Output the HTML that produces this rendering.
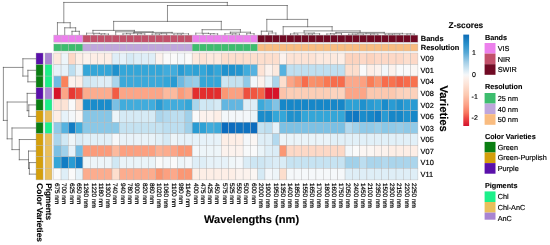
<!DOCTYPE html><html><head><meta charset="utf-8"><style>
html,body{margin:0;padding:0;background:#fff;width:550px;height:245px;overflow:hidden}
svg{display:block;font-family:"Liberation Sans",sans-serif;will-change:opacity;opacity:0.999}
text{fill:#000;text-rendering:geometricPrecision}
.t{opacity:0.999}
.b{font-weight:bold;stroke:#000;stroke-width:0.12px}
</style></head><body>
<svg width="550" height="245" viewBox="0 0 550 245">
<g stroke="#b4b4b4" stroke-width="0.4">
<rect x="53.8" y="53" width="7.28" height="11.54" fill="#fde9de"/>
<rect x="61.08" y="53" width="7.28" height="11.54" fill="#edf5f9"/>
<rect x="68.36" y="53" width="7.28" height="11.54" fill="#fdd8c6"/>
<rect x="75.65" y="53" width="7.28" height="11.54" fill="#fdeee6"/>
<rect x="82.93" y="53" width="7.28" height="11.54" fill="#fcf2ed"/>
<rect x="90.21" y="53" width="7.28" height="11.54" fill="#fdeee6"/>
<rect x="97.49" y="53" width="7.28" height="11.54" fill="#fdeee6"/>
<rect x="104.77" y="53" width="7.28" height="11.54" fill="#fdeee6"/>
<rect x="112.06" y="53" width="7.28" height="11.54" fill="#deeef7"/>
<rect x="119.34" y="53" width="7.28" height="11.54" fill="#e6f2f9"/>
<rect x="126.62" y="53" width="7.28" height="11.54" fill="#d5eaf5"/>
<rect x="133.9" y="53" width="7.28" height="11.54" fill="#deeef7"/>
<rect x="141.18" y="53" width="7.28" height="11.54" fill="#deeef7"/>
<rect x="148.47" y="53" width="7.28" height="11.54" fill="#deeef7"/>
<rect x="155.75" y="53" width="7.28" height="11.54" fill="#fcf2ed"/>
<rect x="163.03" y="53" width="7.28" height="11.54" fill="#fafafa"/>
<rect x="170.31" y="53" width="7.28" height="11.54" fill="#fafafa"/>
<rect x="177.59" y="53" width="7.28" height="11.54" fill="#f3f7fa"/>
<rect x="184.88" y="53" width="7.28" height="11.54" fill="#fafafa"/>
<rect x="192.16" y="53" width="7.28" height="11.54" fill="#fde9de"/>
<rect x="199.44" y="53" width="7.28" height="11.54" fill="#fde3d5"/>
<rect x="206.72" y="53" width="7.28" height="11.54" fill="#fde9de"/>
<rect x="214" y="53" width="7.28" height="11.54" fill="#fde9de"/>
<rect x="221.29" y="53" width="7.28" height="11.54" fill="#fddecd"/>
<rect x="228.57" y="53" width="7.28" height="11.54" fill="#fddecd"/>
<rect x="235.85" y="53" width="7.28" height="11.54" fill="#fddecd"/>
<rect x="243.13" y="53" width="7.28" height="11.54" fill="#fddecd"/>
<rect x="250.41" y="53" width="7.28" height="11.54" fill="#fddecd"/>
<rect x="257.7" y="53" width="7.28" height="11.54" fill="#fddecd"/>
<rect x="264.98" y="53" width="7.28" height="11.54" fill="#fddecd"/>
<rect x="272.26" y="53" width="7.28" height="11.54" fill="#fddecd"/>
<rect x="279.54" y="53" width="7.28" height="11.54" fill="#fcf2ed"/>
<rect x="286.82" y="53" width="7.28" height="11.54" fill="#fde3d5"/>
<rect x="294.11" y="53" width="7.28" height="11.54" fill="#fde3d5"/>
<rect x="301.39" y="53" width="7.28" height="11.54" fill="#fde3d5"/>
<rect x="308.67" y="53" width="7.28" height="11.54" fill="#fde3d5"/>
<rect x="315.95" y="53" width="7.28" height="11.54" fill="#fde9de"/>
<rect x="323.23" y="53" width="7.28" height="11.54" fill="#fde9de"/>
<rect x="330.52" y="53" width="7.28" height="11.54" fill="#fde9de"/>
<rect x="337.8" y="53" width="7.28" height="11.54" fill="#fdeee6"/>
<rect x="345.08" y="53" width="7.28" height="11.54" fill="#fcd3be"/>
<rect x="352.36" y="53" width="7.28" height="11.54" fill="#fcd3be"/>
<rect x="359.64" y="53" width="7.28" height="11.54" fill="#fdd8c6"/>
<rect x="366.93" y="53" width="7.28" height="11.54" fill="#fcd3be"/>
<rect x="374.21" y="53" width="7.28" height="11.54" fill="#fdd8c6"/>
<rect x="381.49" y="53" width="7.28" height="11.54" fill="#fdd8c6"/>
<rect x="388.77" y="53" width="7.28" height="11.54" fill="#fdd8c6"/>
<rect x="396.05" y="53" width="7.28" height="11.54" fill="#fdd8c6"/>
<rect x="403.34" y="53" width="7.28" height="11.54" fill="#fddecd"/>
<rect x="410.62" y="53" width="7.28" height="11.54" fill="#fdd8c6"/>
<rect x="53.8" y="64.54" width="7.28" height="11.54" fill="#e6f2f9"/>
<rect x="61.08" y="64.54" width="7.28" height="11.54" fill="#e6f2f9"/>
<rect x="68.36" y="64.54" width="7.28" height="11.54" fill="#bcdef0"/>
<rect x="75.65" y="64.54" width="7.28" height="11.54" fill="#e6f2f9"/>
<rect x="82.93" y="64.54" width="7.28" height="11.54" fill="#34a6d8"/>
<rect x="90.21" y="64.54" width="7.28" height="11.54" fill="#34a6d8"/>
<rect x="97.49" y="64.54" width="7.28" height="11.54" fill="#34a6d8"/>
<rect x="104.77" y="64.54" width="7.28" height="11.54" fill="#34a6d8"/>
<rect x="112.06" y="64.54" width="7.28" height="11.54" fill="#1f91cd"/>
<rect x="119.34" y="64.54" width="7.28" height="11.54" fill="#34a6d8"/>
<rect x="126.62" y="64.54" width="7.28" height="11.54" fill="#34a6d8"/>
<rect x="133.9" y="64.54" width="7.28" height="11.54" fill="#34a6d8"/>
<rect x="141.18" y="64.54" width="7.28" height="11.54" fill="#34a6d8"/>
<rect x="148.47" y="64.54" width="7.28" height="11.54" fill="#34a6d8"/>
<rect x="155.75" y="64.54" width="7.28" height="11.54" fill="#34a6d8"/>
<rect x="163.03" y="64.54" width="7.28" height="11.54" fill="#41acdc"/>
<rect x="170.31" y="64.54" width="7.28" height="11.54" fill="#41acdc"/>
<rect x="177.59" y="64.54" width="7.28" height="11.54" fill="#299bd3"/>
<rect x="184.88" y="64.54" width="7.28" height="11.54" fill="#34a6d8"/>
<rect x="192.16" y="64.54" width="7.28" height="11.54" fill="#2ea1d5"/>
<rect x="199.44" y="64.54" width="7.28" height="11.54" fill="#34a6d8"/>
<rect x="206.72" y="64.54" width="7.28" height="11.54" fill="#299bd3"/>
<rect x="214" y="64.54" width="7.28" height="11.54" fill="#34a6d8"/>
<rect x="221.29" y="64.54" width="7.28" height="11.54" fill="#1f91cd"/>
<rect x="228.57" y="64.54" width="7.28" height="11.54" fill="#1f91cd"/>
<rect x="235.85" y="64.54" width="7.28" height="11.54" fill="#2396d0"/>
<rect x="243.13" y="64.54" width="7.28" height="11.54" fill="#41acdc"/>
<rect x="250.41" y="64.54" width="7.28" height="11.54" fill="#55b2e0"/>
<rect x="257.7" y="64.54" width="7.28" height="11.54" fill="#fde3d5"/>
<rect x="264.98" y="64.54" width="7.28" height="11.54" fill="#fcf2ed"/>
<rect x="272.26" y="64.54" width="7.28" height="11.54" fill="#fde9de"/>
<rect x="279.54" y="64.54" width="7.28" height="11.54" fill="#55b2e0"/>
<rect x="286.82" y="64.54" width="7.28" height="11.54" fill="#bfdff0"/>
<rect x="294.11" y="64.54" width="7.28" height="11.54" fill="#bfdff0"/>
<rect x="301.39" y="64.54" width="7.28" height="11.54" fill="#bfdff0"/>
<rect x="308.67" y="64.54" width="7.28" height="11.54" fill="#bfdff0"/>
<rect x="315.95" y="64.54" width="7.28" height="11.54" fill="#bfdff0"/>
<rect x="323.23" y="64.54" width="7.28" height="11.54" fill="#bfdff0"/>
<rect x="330.52" y="64.54" width="7.28" height="11.54" fill="#bfdff0"/>
<rect x="337.8" y="64.54" width="7.28" height="11.54" fill="#bfdff0"/>
<rect x="345.08" y="64.54" width="7.28" height="11.54" fill="#fddecd"/>
<rect x="352.36" y="64.54" width="7.28" height="11.54" fill="#fddecd"/>
<rect x="359.64" y="64.54" width="7.28" height="11.54" fill="#fafafa"/>
<rect x="366.93" y="64.54" width="7.28" height="11.54" fill="#fdeee6"/>
<rect x="374.21" y="64.54" width="7.28" height="11.54" fill="#fcf2ed"/>
<rect x="381.49" y="64.54" width="7.28" height="11.54" fill="#f3f7fa"/>
<rect x="388.77" y="64.54" width="7.28" height="11.54" fill="#fcf2ed"/>
<rect x="396.05" y="64.54" width="7.28" height="11.54" fill="#fafafa"/>
<rect x="403.34" y="64.54" width="7.28" height="11.54" fill="#fafafa"/>
<rect x="410.62" y="64.54" width="7.28" height="11.54" fill="#fbf6f3"/>
<rect x="53.8" y="76.07" width="7.28" height="11.54" fill="#6ebae2"/>
<rect x="61.08" y="76.07" width="7.28" height="11.54" fill="#fa825b"/>
<rect x="68.36" y="76.07" width="7.28" height="11.54" fill="#fcf2ed"/>
<rect x="75.65" y="76.07" width="7.28" height="11.54" fill="#fdeee6"/>
<rect x="82.93" y="76.07" width="7.28" height="11.54" fill="#cde6f3"/>
<rect x="90.21" y="76.07" width="7.28" height="11.54" fill="#d5eaf5"/>
<rect x="97.49" y="76.07" width="7.28" height="11.54" fill="#deeef7"/>
<rect x="104.77" y="76.07" width="7.28" height="11.54" fill="#deeef7"/>
<rect x="112.06" y="76.07" width="7.28" height="11.54" fill="#aad5ec"/>
<rect x="119.34" y="76.07" width="7.28" height="11.54" fill="#3ba9da"/>
<rect x="126.62" y="76.07" width="7.28" height="11.54" fill="#3ba9da"/>
<rect x="133.9" y="76.07" width="7.28" height="11.54" fill="#3ba9da"/>
<rect x="141.18" y="76.07" width="7.28" height="11.54" fill="#3ba9da"/>
<rect x="148.47" y="76.07" width="7.28" height="11.54" fill="#3ba9da"/>
<rect x="155.75" y="76.07" width="7.28" height="11.54" fill="#3ba9da"/>
<rect x="163.03" y="76.07" width="7.28" height="11.54" fill="#34a6d8"/>
<rect x="170.31" y="76.07" width="7.28" height="11.54" fill="#299bd3"/>
<rect x="177.59" y="76.07" width="7.28" height="11.54" fill="#6ebae2"/>
<rect x="184.88" y="76.07" width="7.28" height="11.54" fill="#90cae8"/>
<rect x="192.16" y="76.07" width="7.28" height="11.54" fill="#98cee9"/>
<rect x="199.44" y="76.07" width="7.28" height="11.54" fill="#34a6d8"/>
<rect x="206.72" y="76.07" width="7.28" height="11.54" fill="#34a6d8"/>
<rect x="214" y="76.07" width="7.28" height="11.54" fill="#34a6d8"/>
<rect x="221.29" y="76.07" width="7.28" height="11.54" fill="#cde6f3"/>
<rect x="228.57" y="76.07" width="7.28" height="11.54" fill="#c4e2f1"/>
<rect x="235.85" y="76.07" width="7.28" height="11.54" fill="#c4e2f1"/>
<rect x="243.13" y="76.07" width="7.28" height="11.54" fill="#90cae8"/>
<rect x="250.41" y="76.07" width="7.28" height="11.54" fill="#f3f7fa"/>
<rect x="257.7" y="76.07" width="7.28" height="11.54" fill="#fcf2ed"/>
<rect x="264.98" y="76.07" width="7.28" height="11.54" fill="#eaf4f9"/>
<rect x="272.26" y="76.07" width="7.28" height="11.54" fill="#aad5ec"/>
<rect x="279.54" y="76.07" width="7.28" height="11.54" fill="#fddecd"/>
<rect x="286.82" y="76.07" width="7.28" height="11.54" fill="#fca587"/>
<rect x="294.11" y="76.07" width="7.28" height="11.54" fill="#fa946f"/>
<rect x="301.39" y="76.07" width="7.28" height="11.54" fill="#f76c4c"/>
<rect x="308.67" y="76.07" width="7.28" height="11.54" fill="#fa906a"/>
<rect x="315.95" y="76.07" width="7.28" height="11.54" fill="#fa8c64"/>
<rect x="323.23" y="76.07" width="7.28" height="11.54" fill="#f97852"/>
<rect x="330.52" y="76.07" width="7.28" height="11.54" fill="#f76c4c"/>
<rect x="337.8" y="76.07" width="7.28" height="11.54" fill="#f76c4c"/>
<rect x="345.08" y="76.07" width="7.28" height="11.54" fill="#fca88a"/>
<rect x="352.36" y="76.07" width="7.28" height="11.54" fill="#fca88a"/>
<rect x="359.64" y="76.07" width="7.28" height="11.54" fill="#fca080"/>
<rect x="366.93" y="76.07" width="7.28" height="11.54" fill="#f97d56"/>
<rect x="374.21" y="76.07" width="7.28" height="11.54" fill="#fa946f"/>
<rect x="381.49" y="76.07" width="7.28" height="11.54" fill="#f76c4c"/>
<rect x="388.77" y="76.07" width="7.28" height="11.54" fill="#f8724f"/>
<rect x="396.05" y="76.07" width="7.28" height="11.54" fill="#f46448"/>
<rect x="403.34" y="76.07" width="7.28" height="11.54" fill="#f76c4c"/>
<rect x="410.62" y="76.07" width="7.28" height="11.54" fill="#f8724f"/>
<rect x="53.8" y="87.61" width="7.28" height="11.54" fill="#d7142a"/>
<rect x="61.08" y="87.61" width="7.28" height="11.54" fill="#fca587"/>
<rect x="68.36" y="87.61" width="7.28" height="11.54" fill="#e73933"/>
<rect x="75.65" y="87.61" width="7.28" height="11.54" fill="#ee503e"/>
<rect x="82.93" y="87.61" width="7.28" height="11.54" fill="#fcac8e"/>
<rect x="90.21" y="87.61" width="7.28" height="11.54" fill="#fcac8e"/>
<rect x="97.49" y="87.61" width="7.28" height="11.54" fill="#fcac8e"/>
<rect x="104.77" y="87.61" width="7.28" height="11.54" fill="#fcac8e"/>
<rect x="112.06" y="87.61" width="7.28" height="11.54" fill="#f25c44"/>
<rect x="119.34" y="87.61" width="7.28" height="11.54" fill="#fca587"/>
<rect x="126.62" y="87.61" width="7.28" height="11.54" fill="#fca587"/>
<rect x="133.9" y="87.61" width="7.28" height="11.54" fill="#fca587"/>
<rect x="141.18" y="87.61" width="7.28" height="11.54" fill="#fca587"/>
<rect x="148.47" y="87.61" width="7.28" height="11.54" fill="#fca587"/>
<rect x="155.75" y="87.61" width="7.28" height="11.54" fill="#fca587"/>
<rect x="163.03" y="87.61" width="7.28" height="11.54" fill="#fcba9e"/>
<rect x="170.31" y="87.61" width="7.28" height="11.54" fill="#fcba9e"/>
<rect x="177.59" y="87.61" width="7.28" height="11.54" fill="#fb9b7a"/>
<rect x="184.88" y="87.61" width="7.28" height="11.54" fill="#fca88a"/>
<rect x="192.16" y="87.61" width="7.28" height="11.54" fill="#e32d2d"/>
<rect x="199.44" y="87.61" width="7.28" height="11.54" fill="#e32d2d"/>
<rect x="206.72" y="87.61" width="7.28" height="11.54" fill="#e32d2d"/>
<rect x="214" y="87.61" width="7.28" height="11.54" fill="#e32d2d"/>
<rect x="221.29" y="87.61" width="7.28" height="11.54" fill="#fb9774"/>
<rect x="228.57" y="87.61" width="7.28" height="11.54" fill="#fca080"/>
<rect x="235.85" y="87.61" width="7.28" height="11.54" fill="#fca080"/>
<rect x="243.13" y="87.61" width="7.28" height="11.54" fill="#ee503e"/>
<rect x="250.41" y="87.61" width="7.28" height="11.54" fill="#f05641"/>
<rect x="257.7" y="87.61" width="7.28" height="11.54" fill="#f46448"/>
<rect x="264.98" y="87.61" width="7.28" height="11.54" fill="#d7142a"/>
<rect x="272.26" y="87.61" width="7.28" height="11.54" fill="#d7142a"/>
<rect x="279.54" y="87.61" width="7.28" height="11.54" fill="#fcc3aa"/>
<rect x="286.82" y="87.61" width="7.28" height="11.54" fill="#fcceb6"/>
<rect x="294.11" y="87.61" width="7.28" height="11.54" fill="#fcceb6"/>
<rect x="301.39" y="87.61" width="7.28" height="11.54" fill="#fcceb6"/>
<rect x="308.67" y="87.61" width="7.28" height="11.54" fill="#fcceb6"/>
<rect x="315.95" y="87.61" width="7.28" height="11.54" fill="#fcceb6"/>
<rect x="323.23" y="87.61" width="7.28" height="11.54" fill="#fcceb6"/>
<rect x="330.52" y="87.61" width="7.28" height="11.54" fill="#fcd3be"/>
<rect x="337.8" y="87.61" width="7.28" height="11.54" fill="#fcd3be"/>
<rect x="345.08" y="87.61" width="7.28" height="11.54" fill="#fca587"/>
<rect x="352.36" y="87.61" width="7.28" height="11.54" fill="#fca587"/>
<rect x="359.64" y="87.61" width="7.28" height="11.54" fill="#fca587"/>
<rect x="366.93" y="87.61" width="7.28" height="11.54" fill="#fcc8af"/>
<rect x="374.21" y="87.61" width="7.28" height="11.54" fill="#fcc8af"/>
<rect x="381.49" y="87.61" width="7.28" height="11.54" fill="#fcc8af"/>
<rect x="388.77" y="87.61" width="7.28" height="11.54" fill="#fcc8af"/>
<rect x="396.05" y="87.61" width="7.28" height="11.54" fill="#fcd1bb"/>
<rect x="403.34" y="87.61" width="7.28" height="11.54" fill="#fcd3be"/>
<rect x="410.62" y="87.61" width="7.28" height="11.54" fill="#fcd1bb"/>
<rect x="53.8" y="99.14" width="7.28" height="11.54" fill="#fde3d5"/>
<rect x="61.08" y="99.14" width="7.28" height="11.54" fill="#fde3d5"/>
<rect x="68.36" y="99.14" width="7.28" height="11.54" fill="#fafafa"/>
<rect x="75.65" y="99.14" width="7.28" height="11.54" fill="#fddecd"/>
<rect x="82.93" y="99.14" width="7.28" height="11.54" fill="#1a8ccb"/>
<rect x="90.21" y="99.14" width="7.28" height="11.54" fill="#1a8ccb"/>
<rect x="97.49" y="99.14" width="7.28" height="11.54" fill="#1a8ccb"/>
<rect x="104.77" y="99.14" width="7.28" height="11.54" fill="#1a8ccb"/>
<rect x="112.06" y="99.14" width="7.28" height="11.54" fill="#7ac0e4"/>
<rect x="119.34" y="99.14" width="7.28" height="11.54" fill="#41acdc"/>
<rect x="126.62" y="99.14" width="7.28" height="11.54" fill="#41acdc"/>
<rect x="133.9" y="99.14" width="7.28" height="11.54" fill="#41acdc"/>
<rect x="141.18" y="99.14" width="7.28" height="11.54" fill="#41acdc"/>
<rect x="148.47" y="99.14" width="7.28" height="11.54" fill="#41acdc"/>
<rect x="155.75" y="99.14" width="7.28" height="11.54" fill="#299bd3"/>
<rect x="163.03" y="99.14" width="7.28" height="11.54" fill="#41acdc"/>
<rect x="170.31" y="99.14" width="7.28" height="11.54" fill="#41acdc"/>
<rect x="177.59" y="99.14" width="7.28" height="11.54" fill="#41acdc"/>
<rect x="184.88" y="99.14" width="7.28" height="11.54" fill="#34a6d8"/>
<rect x="192.16" y="99.14" width="7.28" height="11.54" fill="#aad5ec"/>
<rect x="199.44" y="99.14" width="7.28" height="11.54" fill="#d0e8f4"/>
<rect x="206.72" y="99.14" width="7.28" height="11.54" fill="#cde6f3"/>
<rect x="214" y="99.14" width="7.28" height="11.54" fill="#d5eaf5"/>
<rect x="221.29" y="99.14" width="7.28" height="11.54" fill="#62b6e1"/>
<rect x="228.57" y="99.14" width="7.28" height="11.54" fill="#62b6e1"/>
<rect x="235.85" y="99.14" width="7.28" height="11.54" fill="#62b6e1"/>
<rect x="243.13" y="99.14" width="7.28" height="11.54" fill="#deeef7"/>
<rect x="250.41" y="99.14" width="7.28" height="11.54" fill="#deeef7"/>
<rect x="257.7" y="99.14" width="7.28" height="11.54" fill="#3ba9da"/>
<rect x="264.98" y="99.14" width="7.28" height="11.54" fill="#55b2e0"/>
<rect x="272.26" y="99.14" width="7.28" height="11.54" fill="#81c3e5"/>
<rect x="279.54" y="99.14" width="7.28" height="11.54" fill="#1687c8"/>
<rect x="286.82" y="99.14" width="7.28" height="11.54" fill="#1687c8"/>
<rect x="294.11" y="99.14" width="7.28" height="11.54" fill="#1687c8"/>
<rect x="301.39" y="99.14" width="7.28" height="11.54" fill="#1687c8"/>
<rect x="308.67" y="99.14" width="7.28" height="11.54" fill="#1687c8"/>
<rect x="315.95" y="99.14" width="7.28" height="11.54" fill="#1687c8"/>
<rect x="323.23" y="99.14" width="7.28" height="11.54" fill="#1687c8"/>
<rect x="330.52" y="99.14" width="7.28" height="11.54" fill="#1687c8"/>
<rect x="337.8" y="99.14" width="7.28" height="11.54" fill="#1687c8"/>
<rect x="345.08" y="99.14" width="7.28" height="11.54" fill="#2ea1d5"/>
<rect x="352.36" y="99.14" width="7.28" height="11.54" fill="#2ea1d5"/>
<rect x="359.64" y="99.14" width="7.28" height="11.54" fill="#1f91cd"/>
<rect x="366.93" y="99.14" width="7.28" height="11.54" fill="#299bd3"/>
<rect x="374.21" y="99.14" width="7.28" height="11.54" fill="#2ea1d5"/>
<rect x="381.49" y="99.14" width="7.28" height="11.54" fill="#1a8ccb"/>
<rect x="388.77" y="99.14" width="7.28" height="11.54" fill="#299bd3"/>
<rect x="396.05" y="99.14" width="7.28" height="11.54" fill="#1f91cd"/>
<rect x="403.34" y="99.14" width="7.28" height="11.54" fill="#299bd3"/>
<rect x="410.62" y="99.14" width="7.28" height="11.54" fill="#299bd3"/>
<rect x="53.8" y="110.68" width="7.28" height="11.54" fill="#fdeee6"/>
<rect x="61.08" y="110.68" width="7.28" height="11.54" fill="#e6f2f9"/>
<rect x="68.36" y="110.68" width="7.28" height="11.54" fill="#f3f7fa"/>
<rect x="75.65" y="110.68" width="7.28" height="11.54" fill="#fbf6f3"/>
<rect x="82.93" y="110.68" width="7.28" height="11.54" fill="#87c6e6"/>
<rect x="90.21" y="110.68" width="7.28" height="11.54" fill="#87c6e6"/>
<rect x="97.49" y="110.68" width="7.28" height="11.54" fill="#87c6e6"/>
<rect x="104.77" y="110.68" width="7.28" height="11.54" fill="#87c6e6"/>
<rect x="112.06" y="110.68" width="7.28" height="11.54" fill="#edf5f9"/>
<rect x="119.34" y="110.68" width="7.28" height="11.54" fill="#d5eaf5"/>
<rect x="126.62" y="110.68" width="7.28" height="11.54" fill="#d5eaf5"/>
<rect x="133.9" y="110.68" width="7.28" height="11.54" fill="#d5eaf5"/>
<rect x="141.18" y="110.68" width="7.28" height="11.54" fill="#d5eaf5"/>
<rect x="148.47" y="110.68" width="7.28" height="11.54" fill="#d5eaf5"/>
<rect x="155.75" y="110.68" width="7.28" height="11.54" fill="#aad5ec"/>
<rect x="163.03" y="110.68" width="7.28" height="11.54" fill="#b3d9ee"/>
<rect x="170.31" y="110.68" width="7.28" height="11.54" fill="#bcdef0"/>
<rect x="177.59" y="110.68" width="7.28" height="11.54" fill="#bcdef0"/>
<rect x="184.88" y="110.68" width="7.28" height="11.54" fill="#a1d1ea"/>
<rect x="192.16" y="110.68" width="7.28" height="11.54" fill="#fafafa"/>
<rect x="199.44" y="110.68" width="7.28" height="11.54" fill="#fcf2ed"/>
<rect x="206.72" y="110.68" width="7.28" height="11.54" fill="#fcf2ed"/>
<rect x="214" y="110.68" width="7.28" height="11.54" fill="#fdeee6"/>
<rect x="221.29" y="110.68" width="7.28" height="11.54" fill="#f3f7fa"/>
<rect x="228.57" y="110.68" width="7.28" height="11.54" fill="#f3f7fa"/>
<rect x="235.85" y="110.68" width="7.28" height="11.54" fill="#f3f7fa"/>
<rect x="243.13" y="110.68" width="7.28" height="11.54" fill="#f3f7fa"/>
<rect x="250.41" y="110.68" width="7.28" height="11.54" fill="#edf5f9"/>
<rect x="257.7" y="110.68" width="7.28" height="11.54" fill="#1a8ccb"/>
<rect x="264.98" y="110.68" width="7.28" height="11.54" fill="#1a8ccb"/>
<rect x="272.26" y="110.68" width="7.28" height="11.54" fill="#34a6d8"/>
<rect x="279.54" y="110.68" width="7.28" height="11.54" fill="#34a6d8"/>
<rect x="286.82" y="110.68" width="7.28" height="11.54" fill="#1f91cd"/>
<rect x="294.11" y="110.68" width="7.28" height="11.54" fill="#1f91cd"/>
<rect x="301.39" y="110.68" width="7.28" height="11.54" fill="#34a6d8"/>
<rect x="308.67" y="110.68" width="7.28" height="11.54" fill="#34a6d8"/>
<rect x="315.95" y="110.68" width="7.28" height="11.54" fill="#34a6d8"/>
<rect x="323.23" y="110.68" width="7.28" height="11.54" fill="#34a6d8"/>
<rect x="330.52" y="110.68" width="7.28" height="11.54" fill="#34a6d8"/>
<rect x="337.8" y="110.68" width="7.28" height="11.54" fill="#34a6d8"/>
<rect x="345.08" y="110.68" width="7.28" height="11.54" fill="#127dc4"/>
<rect x="352.36" y="110.68" width="7.28" height="11.54" fill="#1077c2"/>
<rect x="359.64" y="110.68" width="7.28" height="11.54" fill="#1a8ccb"/>
<rect x="366.93" y="110.68" width="7.28" height="11.54" fill="#1687c8"/>
<rect x="374.21" y="110.68" width="7.28" height="11.54" fill="#127dc4"/>
<rect x="381.49" y="110.68" width="7.28" height="11.54" fill="#299bd3"/>
<rect x="388.77" y="110.68" width="7.28" height="11.54" fill="#1687c8"/>
<rect x="396.05" y="110.68" width="7.28" height="11.54" fill="#1687c8"/>
<rect x="403.34" y="110.68" width="7.28" height="11.54" fill="#1f91cd"/>
<rect x="410.62" y="110.68" width="7.28" height="11.54" fill="#1687c8"/>
<rect x="53.8" y="122.22" width="7.28" height="11.54" fill="#90cae8"/>
<rect x="61.08" y="122.22" width="7.28" height="11.54" fill="#55b2e0"/>
<rect x="68.36" y="122.22" width="7.28" height="11.54" fill="#127dc4"/>
<rect x="75.65" y="122.22" width="7.28" height="11.54" fill="#41acdc"/>
<rect x="82.93" y="122.22" width="7.28" height="11.54" fill="#8ac8e7"/>
<rect x="90.21" y="122.22" width="7.28" height="11.54" fill="#8ac8e7"/>
<rect x="97.49" y="122.22" width="7.28" height="11.54" fill="#8ac8e7"/>
<rect x="104.77" y="122.22" width="7.28" height="11.54" fill="#8ac8e7"/>
<rect x="112.06" y="122.22" width="7.28" height="11.54" fill="#8ac8e7"/>
<rect x="119.34" y="122.22" width="7.28" height="11.54" fill="#c4e2f1"/>
<rect x="126.62" y="122.22" width="7.28" height="11.54" fill="#c4e2f1"/>
<rect x="133.9" y="122.22" width="7.28" height="11.54" fill="#c4e2f1"/>
<rect x="141.18" y="122.22" width="7.28" height="11.54" fill="#c4e2f1"/>
<rect x="148.47" y="122.22" width="7.28" height="11.54" fill="#c4e2f1"/>
<rect x="155.75" y="122.22" width="7.28" height="11.54" fill="#c4e2f1"/>
<rect x="163.03" y="122.22" width="7.28" height="11.54" fill="#bcdef0"/>
<rect x="170.31" y="122.22" width="7.28" height="11.54" fill="#bcdef0"/>
<rect x="177.59" y="122.22" width="7.28" height="11.54" fill="#bcdef0"/>
<rect x="184.88" y="122.22" width="7.28" height="11.54" fill="#a1d1ea"/>
<rect x="192.16" y="122.22" width="7.28" height="11.54" fill="#299bd3"/>
<rect x="199.44" y="122.22" width="7.28" height="11.54" fill="#2ea1d5"/>
<rect x="206.72" y="122.22" width="7.28" height="11.54" fill="#41acdc"/>
<rect x="214" y="122.22" width="7.28" height="11.54" fill="#3ba9da"/>
<rect x="221.29" y="122.22" width="7.28" height="11.54" fill="#0c6cbe"/>
<rect x="228.57" y="122.22" width="7.28" height="11.54" fill="#0c6cbe"/>
<rect x="235.85" y="122.22" width="7.28" height="11.54" fill="#0e72c0"/>
<rect x="243.13" y="122.22" width="7.28" height="11.54" fill="#0e72c0"/>
<rect x="250.41" y="122.22" width="7.28" height="11.54" fill="#0c6cbe"/>
<rect x="257.7" y="122.22" width="7.28" height="11.54" fill="#c4e2f1"/>
<rect x="264.98" y="122.22" width="7.28" height="11.54" fill="#bcdef0"/>
<rect x="272.26" y="122.22" width="7.28" height="11.54" fill="#e6f2f9"/>
<rect x="279.54" y="122.22" width="7.28" height="11.54" fill="#7dc1e4"/>
<rect x="286.82" y="122.22" width="7.28" height="11.54" fill="#7dc1e4"/>
<rect x="294.11" y="122.22" width="7.28" height="11.54" fill="#7dc1e4"/>
<rect x="301.39" y="122.22" width="7.28" height="11.54" fill="#7dc1e4"/>
<rect x="308.67" y="122.22" width="7.28" height="11.54" fill="#7dc1e4"/>
<rect x="315.95" y="122.22" width="7.28" height="11.54" fill="#7dc1e4"/>
<rect x="323.23" y="122.22" width="7.28" height="11.54" fill="#7dc1e4"/>
<rect x="330.52" y="122.22" width="7.28" height="11.54" fill="#7ac0e4"/>
<rect x="337.8" y="122.22" width="7.28" height="11.54" fill="#7ac0e4"/>
<rect x="345.08" y="122.22" width="7.28" height="11.54" fill="#b3d9ee"/>
<rect x="352.36" y="122.22" width="7.28" height="11.54" fill="#a1d1ea"/>
<rect x="359.64" y="122.22" width="7.28" height="11.54" fill="#90cae8"/>
<rect x="366.93" y="122.22" width="7.28" height="11.54" fill="#90cae8"/>
<rect x="374.21" y="122.22" width="7.28" height="11.54" fill="#98cee9"/>
<rect x="381.49" y="122.22" width="7.28" height="11.54" fill="#8ac8e7"/>
<rect x="388.77" y="122.22" width="7.28" height="11.54" fill="#90cae8"/>
<rect x="396.05" y="122.22" width="7.28" height="11.54" fill="#95cce8"/>
<rect x="403.34" y="122.22" width="7.28" height="11.54" fill="#8ec9e7"/>
<rect x="410.62" y="122.22" width="7.28" height="11.54" fill="#90cae8"/>
<rect x="53.8" y="133.75" width="7.28" height="11.54" fill="#aad5ec"/>
<rect x="61.08" y="133.75" width="7.28" height="11.54" fill="#d0e8f4"/>
<rect x="68.36" y="133.75" width="7.28" height="11.54" fill="#eff6f9"/>
<rect x="75.65" y="133.75" width="7.28" height="11.54" fill="#daecf6"/>
<rect x="82.93" y="133.75" width="7.28" height="11.54" fill="#e1f0f8"/>
<rect x="90.21" y="133.75" width="7.28" height="11.54" fill="#e1f0f8"/>
<rect x="97.49" y="133.75" width="7.28" height="11.54" fill="#e1f0f8"/>
<rect x="104.77" y="133.75" width="7.28" height="11.54" fill="#e1f0f8"/>
<rect x="112.06" y="133.75" width="7.28" height="11.54" fill="#f6f8fa"/>
<rect x="119.34" y="133.75" width="7.28" height="11.54" fill="#e9f3f9"/>
<rect x="126.62" y="133.75" width="7.28" height="11.54" fill="#e9f3f9"/>
<rect x="133.9" y="133.75" width="7.28" height="11.54" fill="#e9f3f9"/>
<rect x="141.18" y="133.75" width="7.28" height="11.54" fill="#e9f3f9"/>
<rect x="148.47" y="133.75" width="7.28" height="11.54" fill="#e9f3f9"/>
<rect x="155.75" y="133.75" width="7.28" height="11.54" fill="#e1f0f8"/>
<rect x="163.03" y="133.75" width="7.28" height="11.54" fill="#d5eaf5"/>
<rect x="170.31" y="133.75" width="7.28" height="11.54" fill="#edf5f9"/>
<rect x="177.59" y="133.75" width="7.28" height="11.54" fill="#e6f2f9"/>
<rect x="184.88" y="133.75" width="7.28" height="11.54" fill="#e6f2f9"/>
<rect x="192.16" y="133.75" width="7.28" height="11.54" fill="#e6f2f9"/>
<rect x="199.44" y="133.75" width="7.28" height="11.54" fill="#e6f2f9"/>
<rect x="206.72" y="133.75" width="7.28" height="11.54" fill="#e6f2f9"/>
<rect x="214" y="133.75" width="7.28" height="11.54" fill="#e6f2f9"/>
<rect x="221.29" y="133.75" width="7.28" height="11.54" fill="#fdeee6"/>
<rect x="228.57" y="133.75" width="7.28" height="11.54" fill="#fdeee6"/>
<rect x="235.85" y="133.75" width="7.28" height="11.54" fill="#fdeee6"/>
<rect x="243.13" y="133.75" width="7.28" height="11.54" fill="#f3f7fa"/>
<rect x="250.41" y="133.75" width="7.28" height="11.54" fill="#fbf6f3"/>
<rect x="257.7" y="133.75" width="7.28" height="11.54" fill="#deeef7"/>
<rect x="264.98" y="133.75" width="7.28" height="11.54" fill="#deeef7"/>
<rect x="272.26" y="133.75" width="7.28" height="11.54" fill="#b3d9ee"/>
<rect x="279.54" y="133.75" width="7.28" height="11.54" fill="#edf5f9"/>
<rect x="286.82" y="133.75" width="7.28" height="11.54" fill="#eaf4f9"/>
<rect x="294.11" y="133.75" width="7.28" height="11.54" fill="#eaf4f9"/>
<rect x="301.39" y="133.75" width="7.28" height="11.54" fill="#eaf4f9"/>
<rect x="308.67" y="133.75" width="7.28" height="11.54" fill="#eaf4f9"/>
<rect x="315.95" y="133.75" width="7.28" height="11.54" fill="#eaf4f9"/>
<rect x="323.23" y="133.75" width="7.28" height="11.54" fill="#eaf4f9"/>
<rect x="330.52" y="133.75" width="7.28" height="11.54" fill="#e1f0f8"/>
<rect x="337.8" y="133.75" width="7.28" height="11.54" fill="#e1f0f8"/>
<rect x="345.08" y="133.75" width="7.28" height="11.54" fill="#e1f0f8"/>
<rect x="352.36" y="133.75" width="7.28" height="11.54" fill="#e1f0f8"/>
<rect x="359.64" y="133.75" width="7.28" height="11.54" fill="#e1f0f8"/>
<rect x="366.93" y="133.75" width="7.28" height="11.54" fill="#e1f0f8"/>
<rect x="374.21" y="133.75" width="7.28" height="11.54" fill="#e1f0f8"/>
<rect x="381.49" y="133.75" width="7.28" height="11.54" fill="#e1f0f8"/>
<rect x="388.77" y="133.75" width="7.28" height="11.54" fill="#e1f0f8"/>
<rect x="396.05" y="133.75" width="7.28" height="11.54" fill="#e1f0f8"/>
<rect x="403.34" y="133.75" width="7.28" height="11.54" fill="#e1f0f8"/>
<rect x="410.62" y="133.75" width="7.28" height="11.54" fill="#e1f0f8"/>
<rect x="53.8" y="145.29" width="7.28" height="11.54" fill="#7ac0e4"/>
<rect x="61.08" y="145.29" width="7.28" height="11.54" fill="#a1d1ea"/>
<rect x="68.36" y="145.29" width="7.28" height="11.54" fill="#e6f2f9"/>
<rect x="75.65" y="145.29" width="7.28" height="11.54" fill="#74bde3"/>
<rect x="82.93" y="145.29" width="7.28" height="11.54" fill="#fb9b7a"/>
<rect x="90.21" y="145.29" width="7.28" height="11.54" fill="#fb9b7a"/>
<rect x="97.49" y="145.29" width="7.28" height="11.54" fill="#fb9b7a"/>
<rect x="104.77" y="145.29" width="7.28" height="11.54" fill="#fb9b7a"/>
<rect x="112.06" y="145.29" width="7.28" height="11.54" fill="#fcba9e"/>
<rect x="119.34" y="145.29" width="7.28" height="11.54" fill="#fca080"/>
<rect x="126.62" y="145.29" width="7.28" height="11.54" fill="#fca080"/>
<rect x="133.9" y="145.29" width="7.28" height="11.54" fill="#fca080"/>
<rect x="141.18" y="145.29" width="7.28" height="11.54" fill="#fca080"/>
<rect x="148.47" y="145.29" width="7.28" height="11.54" fill="#fca080"/>
<rect x="155.75" y="145.29" width="7.28" height="11.54" fill="#fcb194"/>
<rect x="163.03" y="145.29" width="7.28" height="11.54" fill="#fcac8e"/>
<rect x="170.31" y="145.29" width="7.28" height="11.54" fill="#fca587"/>
<rect x="177.59" y="145.29" width="7.28" height="11.54" fill="#fb9774"/>
<rect x="184.88" y="145.29" width="7.28" height="11.54" fill="#fb9774"/>
<rect x="192.16" y="145.29" width="7.28" height="11.54" fill="#f3f7fa"/>
<rect x="199.44" y="145.29" width="7.28" height="11.54" fill="#edf5f9"/>
<rect x="206.72" y="145.29" width="7.28" height="11.54" fill="#edf5f9"/>
<rect x="214" y="145.29" width="7.28" height="11.54" fill="#edf5f9"/>
<rect x="221.29" y="145.29" width="7.28" height="11.54" fill="#fcf2ed"/>
<rect x="228.57" y="145.29" width="7.28" height="11.54" fill="#fcf2ed"/>
<rect x="235.85" y="145.29" width="7.28" height="11.54" fill="#fcf2ed"/>
<rect x="243.13" y="145.29" width="7.28" height="11.54" fill="#f7f9fa"/>
<rect x="250.41" y="145.29" width="7.28" height="11.54" fill="#fafafa"/>
<rect x="257.7" y="145.29" width="7.28" height="11.54" fill="#eaf4f9"/>
<rect x="264.98" y="145.29" width="7.28" height="11.54" fill="#deeef7"/>
<rect x="272.26" y="145.29" width="7.28" height="11.54" fill="#daecf6"/>
<rect x="279.54" y="145.29" width="7.28" height="11.54" fill="#fb9774"/>
<rect x="286.82" y="145.29" width="7.28" height="11.54" fill="#fdd8c6"/>
<rect x="294.11" y="145.29" width="7.28" height="11.54" fill="#fdd8c6"/>
<rect x="301.39" y="145.29" width="7.28" height="11.54" fill="#fdd8c6"/>
<rect x="308.67" y="145.29" width="7.28" height="11.54" fill="#fdd8c6"/>
<rect x="315.95" y="145.29" width="7.28" height="11.54" fill="#fdd8c6"/>
<rect x="323.23" y="145.29" width="7.28" height="11.54" fill="#fdd8c6"/>
<rect x="330.52" y="145.29" width="7.28" height="11.54" fill="#fdd8c6"/>
<rect x="337.8" y="145.29" width="7.28" height="11.54" fill="#fdd8c6"/>
<rect x="345.08" y="145.29" width="7.28" height="11.54" fill="#f3f7fa"/>
<rect x="352.36" y="145.29" width="7.28" height="11.54" fill="#fafafa"/>
<rect x="359.64" y="145.29" width="7.28" height="11.54" fill="#fbf6f3"/>
<rect x="366.93" y="145.29" width="7.28" height="11.54" fill="#fbf6f3"/>
<rect x="374.21" y="145.29" width="7.28" height="11.54" fill="#fcf2ed"/>
<rect x="381.49" y="145.29" width="7.28" height="11.54" fill="#fcf2ed"/>
<rect x="388.77" y="145.29" width="7.28" height="11.54" fill="#fdeee6"/>
<rect x="396.05" y="145.29" width="7.28" height="11.54" fill="#fdeee6"/>
<rect x="403.34" y="145.29" width="7.28" height="11.54" fill="#fdeee6"/>
<rect x="410.62" y="145.29" width="7.28" height="11.54" fill="#fdeee6"/>
<rect x="53.8" y="156.82" width="7.28" height="11.54" fill="#34a6d8"/>
<rect x="61.08" y="156.82" width="7.28" height="11.54" fill="#127dc4"/>
<rect x="68.36" y="156.82" width="7.28" height="11.54" fill="#299bd3"/>
<rect x="75.65" y="156.82" width="7.28" height="11.54" fill="#127dc4"/>
<rect x="82.93" y="156.82" width="7.28" height="11.54" fill="#edf5f9"/>
<rect x="90.21" y="156.82" width="7.28" height="11.54" fill="#edf5f9"/>
<rect x="97.49" y="156.82" width="7.28" height="11.54" fill="#edf5f9"/>
<rect x="104.77" y="156.82" width="7.28" height="11.54" fill="#edf5f9"/>
<rect x="112.06" y="156.82" width="7.28" height="11.54" fill="#d0e8f4"/>
<rect x="119.34" y="156.82" width="7.28" height="11.54" fill="#eaf4f9"/>
<rect x="126.62" y="156.82" width="7.28" height="11.54" fill="#eaf4f9"/>
<rect x="133.9" y="156.82" width="7.28" height="11.54" fill="#eaf4f9"/>
<rect x="141.18" y="156.82" width="7.28" height="11.54" fill="#eaf4f9"/>
<rect x="148.47" y="156.82" width="7.28" height="11.54" fill="#eaf4f9"/>
<rect x="155.75" y="156.82" width="7.28" height="11.54" fill="#fafafa"/>
<rect x="163.03" y="156.82" width="7.28" height="11.54" fill="#f3f7fa"/>
<rect x="170.31" y="156.82" width="7.28" height="11.54" fill="#fafafa"/>
<rect x="177.59" y="156.82" width="7.28" height="11.54" fill="#edf5f9"/>
<rect x="184.88" y="156.82" width="7.28" height="11.54" fill="#f3f7fa"/>
<rect x="192.16" y="156.82" width="7.28" height="11.54" fill="#deeef7"/>
<rect x="199.44" y="156.82" width="7.28" height="11.54" fill="#deeef7"/>
<rect x="206.72" y="156.82" width="7.28" height="11.54" fill="#e6f2f9"/>
<rect x="214" y="156.82" width="7.28" height="11.54" fill="#e6f2f9"/>
<rect x="221.29" y="156.82" width="7.28" height="11.54" fill="#e6f2f9"/>
<rect x="228.57" y="156.82" width="7.28" height="11.54" fill="#eff6f9"/>
<rect x="235.85" y="156.82" width="7.28" height="11.54" fill="#f3f7fa"/>
<rect x="243.13" y="156.82" width="7.28" height="11.54" fill="#daecf6"/>
<rect x="250.41" y="156.82" width="7.28" height="11.54" fill="#cde6f3"/>
<rect x="257.7" y="156.82" width="7.28" height="11.54" fill="#cde6f3"/>
<rect x="264.98" y="156.82" width="7.28" height="11.54" fill="#d4e9f5"/>
<rect x="272.26" y="156.82" width="7.28" height="11.54" fill="#daecf6"/>
<rect x="279.54" y="156.82" width="7.28" height="11.54" fill="#d9ecf6"/>
<rect x="286.82" y="156.82" width="7.28" height="11.54" fill="#c6e3f2"/>
<rect x="294.11" y="156.82" width="7.28" height="11.54" fill="#c6e3f2"/>
<rect x="301.39" y="156.82" width="7.28" height="11.54" fill="#c6e3f2"/>
<rect x="308.67" y="156.82" width="7.28" height="11.54" fill="#c6e3f2"/>
<rect x="315.95" y="156.82" width="7.28" height="11.54" fill="#c6e3f2"/>
<rect x="323.23" y="156.82" width="7.28" height="11.54" fill="#c6e3f2"/>
<rect x="330.52" y="156.82" width="7.28" height="11.54" fill="#c6e3f2"/>
<rect x="337.8" y="156.82" width="7.28" height="11.54" fill="#c6e3f2"/>
<rect x="345.08" y="156.82" width="7.28" height="11.54" fill="#a1d1ea"/>
<rect x="352.36" y="156.82" width="7.28" height="11.54" fill="#a1d1ea"/>
<rect x="359.64" y="156.82" width="7.28" height="11.54" fill="#bcdef0"/>
<rect x="366.93" y="156.82" width="7.28" height="11.54" fill="#aad5ec"/>
<rect x="374.21" y="156.82" width="7.28" height="11.54" fill="#aad5ec"/>
<rect x="381.49" y="156.82" width="7.28" height="11.54" fill="#b3d9ee"/>
<rect x="388.77" y="156.82" width="7.28" height="11.54" fill="#aad5ec"/>
<rect x="396.05" y="156.82" width="7.28" height="11.54" fill="#aad5ec"/>
<rect x="403.34" y="156.82" width="7.28" height="11.54" fill="#aad5ec"/>
<rect x="410.62" y="156.82" width="7.28" height="11.54" fill="#aad5ec"/>
<rect x="53.8" y="168.36" width="7.28" height="11.54" fill="#fafafa"/>
<rect x="61.08" y="168.36" width="7.28" height="11.54" fill="#deeef7"/>
<rect x="68.36" y="168.36" width="7.28" height="11.54" fill="#fafafa"/>
<rect x="75.65" y="168.36" width="7.28" height="11.54" fill="#e6f2f9"/>
<rect x="82.93" y="168.36" width="7.28" height="11.54" fill="#fcac8e"/>
<rect x="90.21" y="168.36" width="7.28" height="11.54" fill="#fcac8e"/>
<rect x="97.49" y="168.36" width="7.28" height="11.54" fill="#fcac8e"/>
<rect x="104.77" y="168.36" width="7.28" height="11.54" fill="#fcac8e"/>
<rect x="112.06" y="168.36" width="7.28" height="11.54" fill="#fddecd"/>
<rect x="119.34" y="168.36" width="7.28" height="11.54" fill="#fcac8e"/>
<rect x="126.62" y="168.36" width="7.28" height="11.54" fill="#fcac8e"/>
<rect x="133.9" y="168.36" width="7.28" height="11.54" fill="#fcac8e"/>
<rect x="141.18" y="168.36" width="7.28" height="11.54" fill="#fcac8e"/>
<rect x="148.47" y="168.36" width="7.28" height="11.54" fill="#fcac8e"/>
<rect x="155.75" y="168.36" width="7.28" height="11.54" fill="#fa946f"/>
<rect x="163.03" y="168.36" width="7.28" height="11.54" fill="#fca080"/>
<rect x="170.31" y="168.36" width="7.28" height="11.54" fill="#fca88a"/>
<rect x="177.59" y="168.36" width="7.28" height="11.54" fill="#fb9774"/>
<rect x="184.88" y="168.36" width="7.28" height="11.54" fill="#fb9774"/>
<rect x="192.16" y="168.36" width="7.28" height="11.54" fill="#fdeee6"/>
<rect x="199.44" y="168.36" width="7.28" height="11.54" fill="#fdeee6"/>
<rect x="206.72" y="168.36" width="7.28" height="11.54" fill="#fdeee6"/>
<rect x="214" y="168.36" width="7.28" height="11.54" fill="#fdeee6"/>
<rect x="221.29" y="168.36" width="7.28" height="11.54" fill="#fdeee6"/>
<rect x="228.57" y="168.36" width="7.28" height="11.54" fill="#fdeee6"/>
<rect x="235.85" y="168.36" width="7.28" height="11.54" fill="#fcf2ed"/>
<rect x="243.13" y="168.36" width="7.28" height="11.54" fill="#fcf2ed"/>
<rect x="250.41" y="168.36" width="7.28" height="11.54" fill="#fbf6f3"/>
<rect x="257.7" y="168.36" width="7.28" height="11.54" fill="#d5eaf5"/>
<rect x="264.98" y="168.36" width="7.28" height="11.54" fill="#f3f7fa"/>
<rect x="272.26" y="168.36" width="7.28" height="11.54" fill="#edf5f9"/>
<rect x="279.54" y="168.36" width="7.28" height="11.54" fill="#fddecd"/>
<rect x="286.82" y="168.36" width="7.28" height="11.54" fill="#f5f8fa"/>
<rect x="294.11" y="168.36" width="7.28" height="11.54" fill="#f5f8fa"/>
<rect x="301.39" y="168.36" width="7.28" height="11.54" fill="#f5f8fa"/>
<rect x="308.67" y="168.36" width="7.28" height="11.54" fill="#f5f8fa"/>
<rect x="315.95" y="168.36" width="7.28" height="11.54" fill="#f5f8fa"/>
<rect x="323.23" y="168.36" width="7.28" height="11.54" fill="#f5f8fa"/>
<rect x="330.52" y="168.36" width="7.28" height="11.54" fill="#f5f8fa"/>
<rect x="337.8" y="168.36" width="7.28" height="11.54" fill="#f5f8fa"/>
<rect x="345.08" y="168.36" width="7.28" height="11.54" fill="#deeef7"/>
<rect x="352.36" y="168.36" width="7.28" height="11.54" fill="#deeef7"/>
<rect x="359.64" y="168.36" width="7.28" height="11.54" fill="#deeef7"/>
<rect x="366.93" y="168.36" width="7.28" height="11.54" fill="#deeef7"/>
<rect x="374.21" y="168.36" width="7.28" height="11.54" fill="#deeef7"/>
<rect x="381.49" y="168.36" width="7.28" height="11.54" fill="#deeef7"/>
<rect x="388.77" y="168.36" width="7.28" height="11.54" fill="#deeef7"/>
<rect x="396.05" y="168.36" width="7.28" height="11.54" fill="#deeef7"/>
<rect x="403.34" y="168.36" width="7.28" height="11.54" fill="#deeef7"/>
<rect x="410.62" y="168.36" width="7.28" height="11.54" fill="#deeef7"/>
</g>
<g stroke="#b4b4b4" stroke-width="0.4">
<rect x="53.8" y="35.1" width="7.28" height="7.1" fill="#ec80ec"/>
<rect x="53.8" y="44" width="7.28" height="7.05" fill="#3dbd6e"/>
<rect x="61.08" y="35.1" width="7.28" height="7.1" fill="#ec80ec"/>
<rect x="61.08" y="44" width="7.28" height="7.05" fill="#3dbd6e"/>
<rect x="68.36" y="35.1" width="7.28" height="7.1" fill="#ec80ec"/>
<rect x="68.36" y="44" width="7.28" height="7.05" fill="#3dbd6e"/>
<rect x="75.65" y="35.1" width="7.28" height="7.1" fill="#ec80ec"/>
<rect x="75.65" y="44" width="7.28" height="7.05" fill="#3dbd6e"/>
<rect x="82.93" y="35.1" width="7.28" height="7.1" fill="#c2506a"/>
<rect x="82.93" y="44" width="7.28" height="7.05" fill="#bfa6dc"/>
<rect x="90.21" y="35.1" width="7.28" height="7.1" fill="#c2506a"/>
<rect x="90.21" y="44" width="7.28" height="7.05" fill="#bfa6dc"/>
<rect x="97.49" y="35.1" width="7.28" height="7.1" fill="#c2506a"/>
<rect x="97.49" y="44" width="7.28" height="7.05" fill="#bfa6dc"/>
<rect x="104.77" y="35.1" width="7.28" height="7.1" fill="#c2506a"/>
<rect x="104.77" y="44" width="7.28" height="7.05" fill="#bfa6dc"/>
<rect x="112.06" y="35.1" width="7.28" height="7.1" fill="#c2506a"/>
<rect x="112.06" y="44" width="7.28" height="7.05" fill="#bfa6dc"/>
<rect x="119.34" y="35.1" width="7.28" height="7.1" fill="#c2506a"/>
<rect x="119.34" y="44" width="7.28" height="7.05" fill="#bfa6dc"/>
<rect x="126.62" y="35.1" width="7.28" height="7.1" fill="#c2506a"/>
<rect x="126.62" y="44" width="7.28" height="7.05" fill="#bfa6dc"/>
<rect x="133.9" y="35.1" width="7.28" height="7.1" fill="#c2506a"/>
<rect x="133.9" y="44" width="7.28" height="7.05" fill="#bfa6dc"/>
<rect x="141.18" y="35.1" width="7.28" height="7.1" fill="#c2506a"/>
<rect x="141.18" y="44" width="7.28" height="7.05" fill="#bfa6dc"/>
<rect x="148.47" y="35.1" width="7.28" height="7.1" fill="#c2506a"/>
<rect x="148.47" y="44" width="7.28" height="7.05" fill="#bfa6dc"/>
<rect x="155.75" y="35.1" width="7.28" height="7.1" fill="#c2506a"/>
<rect x="155.75" y="44" width="7.28" height="7.05" fill="#bfa6dc"/>
<rect x="163.03" y="35.1" width="7.28" height="7.1" fill="#c2506a"/>
<rect x="163.03" y="44" width="7.28" height="7.05" fill="#bfa6dc"/>
<rect x="170.31" y="35.1" width="7.28" height="7.1" fill="#c2506a"/>
<rect x="170.31" y="44" width="7.28" height="7.05" fill="#bfa6dc"/>
<rect x="177.59" y="35.1" width="7.28" height="7.1" fill="#c2506a"/>
<rect x="177.59" y="44" width="7.28" height="7.05" fill="#bfa6dc"/>
<rect x="184.88" y="35.1" width="7.28" height="7.1" fill="#c2506a"/>
<rect x="184.88" y="44" width="7.28" height="7.05" fill="#bfa6dc"/>
<rect x="192.16" y="35.1" width="7.28" height="7.1" fill="#ec80ec"/>
<rect x="192.16" y="44" width="7.28" height="7.05" fill="#3dbd6e"/>
<rect x="199.44" y="35.1" width="7.28" height="7.1" fill="#ec80ec"/>
<rect x="199.44" y="44" width="7.28" height="7.05" fill="#3dbd6e"/>
<rect x="206.72" y="35.1" width="7.28" height="7.1" fill="#ec80ec"/>
<rect x="206.72" y="44" width="7.28" height="7.05" fill="#3dbd6e"/>
<rect x="214" y="35.1" width="7.28" height="7.1" fill="#ec80ec"/>
<rect x="214" y="44" width="7.28" height="7.05" fill="#3dbd6e"/>
<rect x="221.29" y="35.1" width="7.28" height="7.1" fill="#ec80ec"/>
<rect x="221.29" y="44" width="7.28" height="7.05" fill="#3dbd6e"/>
<rect x="228.57" y="35.1" width="7.28" height="7.1" fill="#ec80ec"/>
<rect x="228.57" y="44" width="7.28" height="7.05" fill="#3dbd6e"/>
<rect x="235.85" y="35.1" width="7.28" height="7.1" fill="#ec80ec"/>
<rect x="235.85" y="44" width="7.28" height="7.05" fill="#3dbd6e"/>
<rect x="243.13" y="35.1" width="7.28" height="7.1" fill="#ec80ec"/>
<rect x="243.13" y="44" width="7.28" height="7.05" fill="#3dbd6e"/>
<rect x="250.41" y="35.1" width="7.28" height="7.1" fill="#ec80ec"/>
<rect x="250.41" y="44" width="7.28" height="7.05" fill="#3dbd6e"/>
<rect x="257.7" y="35.1" width="7.28" height="7.1" fill="#700a24"/>
<rect x="257.7" y="44" width="7.28" height="7.05" fill="#f9bc80"/>
<rect x="264.98" y="35.1" width="7.28" height="7.1" fill="#700a24"/>
<rect x="264.98" y="44" width="7.28" height="7.05" fill="#f9bc80"/>
<rect x="272.26" y="35.1" width="7.28" height="7.1" fill="#700a24"/>
<rect x="272.26" y="44" width="7.28" height="7.05" fill="#f9bc80"/>
<rect x="279.54" y="35.1" width="7.28" height="7.1" fill="#700a24"/>
<rect x="279.54" y="44" width="7.28" height="7.05" fill="#f9bc80"/>
<rect x="286.82" y="35.1" width="7.28" height="7.1" fill="#700a24"/>
<rect x="286.82" y="44" width="7.28" height="7.05" fill="#f9bc80"/>
<rect x="294.11" y="35.1" width="7.28" height="7.1" fill="#700a24"/>
<rect x="294.11" y="44" width="7.28" height="7.05" fill="#f9bc80"/>
<rect x="301.39" y="35.1" width="7.28" height="7.1" fill="#700a24"/>
<rect x="301.39" y="44" width="7.28" height="7.05" fill="#f9bc80"/>
<rect x="308.67" y="35.1" width="7.28" height="7.1" fill="#700a24"/>
<rect x="308.67" y="44" width="7.28" height="7.05" fill="#f9bc80"/>
<rect x="315.95" y="35.1" width="7.28" height="7.1" fill="#700a24"/>
<rect x="315.95" y="44" width="7.28" height="7.05" fill="#f9bc80"/>
<rect x="323.23" y="35.1" width="7.28" height="7.1" fill="#700a24"/>
<rect x="323.23" y="44" width="7.28" height="7.05" fill="#f9bc80"/>
<rect x="330.52" y="35.1" width="7.28" height="7.1" fill="#700a24"/>
<rect x="330.52" y="44" width="7.28" height="7.05" fill="#f9bc80"/>
<rect x="337.8" y="35.1" width="7.28" height="7.1" fill="#700a24"/>
<rect x="337.8" y="44" width="7.28" height="7.05" fill="#f9bc80"/>
<rect x="345.08" y="35.1" width="7.28" height="7.1" fill="#700a24"/>
<rect x="345.08" y="44" width="7.28" height="7.05" fill="#f9bc80"/>
<rect x="352.36" y="35.1" width="7.28" height="7.1" fill="#700a24"/>
<rect x="352.36" y="44" width="7.28" height="7.05" fill="#f9bc80"/>
<rect x="359.64" y="35.1" width="7.28" height="7.1" fill="#700a24"/>
<rect x="359.64" y="44" width="7.28" height="7.05" fill="#f9bc80"/>
<rect x="366.93" y="35.1" width="7.28" height="7.1" fill="#700a24"/>
<rect x="366.93" y="44" width="7.28" height="7.05" fill="#f9bc80"/>
<rect x="374.21" y="35.1" width="7.28" height="7.1" fill="#700a24"/>
<rect x="374.21" y="44" width="7.28" height="7.05" fill="#f9bc80"/>
<rect x="381.49" y="35.1" width="7.28" height="7.1" fill="#700a24"/>
<rect x="381.49" y="44" width="7.28" height="7.05" fill="#f9bc80"/>
<rect x="388.77" y="35.1" width="7.28" height="7.1" fill="#700a24"/>
<rect x="388.77" y="44" width="7.28" height="7.05" fill="#f9bc80"/>
<rect x="396.05" y="35.1" width="7.28" height="7.1" fill="#700a24"/>
<rect x="396.05" y="44" width="7.28" height="7.05" fill="#f9bc80"/>
<rect x="403.34" y="35.1" width="7.28" height="7.1" fill="#700a24"/>
<rect x="403.34" y="44" width="7.28" height="7.05" fill="#f9bc80"/>
<rect x="410.62" y="35.1" width="7.28" height="7.1" fill="#700a24"/>
<rect x="410.62" y="44" width="7.28" height="7.05" fill="#f9bc80"/>
</g>
<g stroke="#b4b4b4" stroke-width="0.4">
<rect x="36" y="53" width="7.1" height="11.54" fill="#5a10aa"/>
<rect x="45" y="53" width="7" height="11.54" fill="#a884d2"/>
<rect x="36" y="64.54" width="7.1" height="11.54" fill="#0a7e12"/>
<rect x="45" y="64.54" width="7" height="11.54" fill="#1cf08a"/>
<rect x="36" y="76.07" width="7.1" height="11.54" fill="#0a7e12"/>
<rect x="45" y="76.07" width="7" height="11.54" fill="#1cf08a"/>
<rect x="36" y="87.61" width="7.1" height="11.54" fill="#5a10aa"/>
<rect x="45" y="87.61" width="7" height="11.54" fill="#a884d2"/>
<rect x="36" y="99.14" width="7.1" height="11.54" fill="#0a7e12"/>
<rect x="45" y="99.14" width="7" height="11.54" fill="#1cf08a"/>
<rect x="36" y="110.68" width="7.1" height="11.54" fill="#d49f0c"/>
<rect x="45" y="110.68" width="7" height="11.54" fill="#e9bf5c"/>
<rect x="36" y="122.22" width="7.1" height="11.54" fill="#0a7e12"/>
<rect x="45" y="122.22" width="7" height="11.54" fill="#1cf08a"/>
<rect x="36" y="133.75" width="7.1" height="11.54" fill="#d49f0c"/>
<rect x="45" y="133.75" width="7" height="11.54" fill="#e9bf5c"/>
<rect x="36" y="145.29" width="7.1" height="11.54" fill="#d49f0c"/>
<rect x="45" y="145.29" width="7" height="11.54" fill="#e9bf5c"/>
<rect x="36" y="156.82" width="7.1" height="11.54" fill="#d49f0c"/>
<rect x="45" y="156.82" width="7" height="11.54" fill="#e9bf5c"/>
<rect x="36" y="168.36" width="7.1" height="11.54" fill="#d49f0c"/>
<rect x="45" y="168.36" width="7" height="11.54" fill="#e9bf5c"/>
</g>
<g stroke-width="0.62" fill="none" stroke-linecap="square">
<line x1="27.9" y1="70.3" x2="27.9" y2="81.84" stroke="#4a4a4a"/>
<line x1="27.9" y1="70.3" x2="35.7" y2="70.3" stroke="#4a4a4a"/>
<line x1="27.9" y1="81.84" x2="35.7" y2="81.84" stroke="#4a4a4a"/>
<line x1="22.9" y1="76.07" x2="27.9" y2="76.07" stroke="#4a4a4a"/>
<line x1="22.9" y1="58.77" x2="22.9" y2="76.07" stroke="#4a4a4a"/>
<line x1="22.9" y1="58.77" x2="35.7" y2="58.77" stroke="#4a4a4a"/>
<line x1="28.8" y1="104.91" x2="28.8" y2="116.45" stroke="#4a4a4a"/>
<line x1="28.8" y1="104.91" x2="35.7" y2="104.91" stroke="#4a4a4a"/>
<line x1="28.8" y1="116.45" x2="35.7" y2="116.45" stroke="#4a4a4a"/>
<line x1="27.2" y1="110.68" x2="28.8" y2="110.68" stroke="#4a4a4a"/>
<line x1="27.2" y1="93.38" x2="27.2" y2="110.68" stroke="#4a4a4a"/>
<line x1="27.2" y1="93.38" x2="35.7" y2="93.38" stroke="#4a4a4a"/>
<line x1="29.4" y1="162.59" x2="29.4" y2="174.13" stroke="#4a4a4a"/>
<line x1="29.4" y1="162.59" x2="35.7" y2="162.59" stroke="#4a4a4a"/>
<line x1="29.4" y1="174.13" x2="35.7" y2="174.13" stroke="#4a4a4a"/>
<line x1="28.5" y1="168.36" x2="29.4" y2="168.36" stroke="#4a4a4a"/>
<line x1="28.5" y1="151.06" x2="28.5" y2="168.36" stroke="#4a4a4a"/>
<line x1="28.5" y1="151.06" x2="35.7" y2="151.06" stroke="#4a4a4a"/>
<line x1="19.3" y1="159.71" x2="28.5" y2="159.71" stroke="#4a4a4a"/>
<line x1="19.3" y1="139.52" x2="19.3" y2="159.71" stroke="#4a4a4a"/>
<line x1="19.3" y1="139.52" x2="35.7" y2="139.52" stroke="#4a4a4a"/>
<line x1="12" y1="149.61" x2="19.3" y2="149.61" stroke="#4a4a4a"/>
<line x1="12" y1="127.98" x2="12" y2="149.61" stroke="#4a4a4a"/>
<line x1="12" y1="127.98" x2="35.7" y2="127.98" stroke="#4a4a4a"/>
<line x1="7.2" y1="138.8" x2="12" y2="138.8" stroke="#4a4a4a"/>
<line x1="7.2" y1="102.03" x2="27.2" y2="102.03" stroke="#4a4a4a"/>
<line x1="7.2" y1="102.03" x2="7.2" y2="138.8" stroke="#4a4a4a"/>
<line x1="3.4" y1="67.42" x2="22.9" y2="67.42" stroke="#4a4a4a"/>
<line x1="3.4" y1="120.41" x2="7.2" y2="120.41" stroke="#4a4a4a"/>
<line x1="3.4" y1="67.42" x2="3.4" y2="120.41" stroke="#4a4a4a"/>
<line x1="72" y1="31.3" x2="79.29" y2="31.3" stroke="#4a4a4a"/>
<line x1="72" y1="31.3" x2="72" y2="34.6" stroke="#4a4a4a"/>
<line x1="79.29" y1="31.3" x2="79.29" y2="34.6" stroke="#4a4a4a"/>
<line x1="64.72" y1="27.8" x2="75.65" y2="27.8" stroke="#4a4a4a"/>
<line x1="64.72" y1="27.8" x2="64.72" y2="34.6" stroke="#4a4a4a"/>
<line x1="75.65" y1="27.8" x2="75.65" y2="31.3" stroke="#4a4a4a"/>
<line x1="57.44" y1="22.7" x2="70.18" y2="22.7" stroke="#4a4a4a"/>
<line x1="57.44" y1="22.7" x2="57.44" y2="34.6" stroke="#4a4a4a"/>
<line x1="70.18" y1="22.7" x2="70.18" y2="27.8" stroke="#4a4a4a"/>
<line x1="101.13" y1="34" x2="108.41" y2="34" stroke="#8a8a8a"/>
<line x1="101.13" y1="34" x2="101.13" y2="34.6" stroke="#4a4a4a"/>
<line x1="108.41" y1="34" x2="108.41" y2="34.6" stroke="#4a4a4a"/>
<line x1="93.85" y1="33.6" x2="104.77" y2="33.6" stroke="#8a8a8a"/>
<line x1="93.85" y1="33.6" x2="93.85" y2="34.6" stroke="#4a4a4a"/>
<line x1="104.77" y1="33.6" x2="104.77" y2="34" stroke="#4a4a4a"/>
<line x1="86.57" y1="33.2" x2="99.31" y2="33.2" stroke="#8a8a8a"/>
<line x1="86.57" y1="33.2" x2="86.57" y2="34.6" stroke="#4a4a4a"/>
<line x1="99.31" y1="33.2" x2="99.31" y2="33.6" stroke="#4a4a4a"/>
<line x1="122.98" y1="33.8" x2="130.26" y2="33.8" stroke="#8a8a8a"/>
<line x1="122.98" y1="33.8" x2="122.98" y2="34.6" stroke="#4a4a4a"/>
<line x1="130.26" y1="33.8" x2="130.26" y2="34.6" stroke="#4a4a4a"/>
<line x1="137.54" y1="33.8" x2="144.82" y2="33.8" stroke="#8a8a8a"/>
<line x1="137.54" y1="33.8" x2="137.54" y2="34.6" stroke="#4a4a4a"/>
<line x1="144.82" y1="33.8" x2="144.82" y2="34.6" stroke="#4a4a4a"/>
<line x1="126.62" y1="33.4" x2="141.18" y2="33.4" stroke="#8a8a8a"/>
<line x1="126.62" y1="33.4" x2="126.62" y2="33.8" stroke="#4a4a4a"/>
<line x1="141.18" y1="33.4" x2="141.18" y2="33.8" stroke="#4a4a4a"/>
<line x1="152.11" y1="33.97" x2="159.39" y2="33.97" stroke="#8a8a8a"/>
<line x1="152.11" y1="33.97" x2="152.11" y2="34.6" stroke="#4a4a4a"/>
<line x1="159.39" y1="33.97" x2="159.39" y2="34.6" stroke="#4a4a4a"/>
<line x1="155.75" y1="33.7" x2="166.67" y2="33.7" stroke="#8a8a8a"/>
<line x1="155.75" y1="33.7" x2="155.75" y2="33.97" stroke="#4a4a4a"/>
<line x1="166.67" y1="33.7" x2="166.67" y2="34.6" stroke="#4a4a4a"/>
<line x1="173.95" y1="33.97" x2="181.24" y2="33.97" stroke="#8a8a8a"/>
<line x1="173.95" y1="33.97" x2="173.95" y2="34.6" stroke="#4a4a4a"/>
<line x1="181.24" y1="33.97" x2="181.24" y2="34.6" stroke="#4a4a4a"/>
<line x1="177.59" y1="33.7" x2="188.52" y2="33.7" stroke="#8a8a8a"/>
<line x1="177.59" y1="33.7" x2="177.59" y2="33.97" stroke="#4a4a4a"/>
<line x1="188.52" y1="33.7" x2="188.52" y2="34.6" stroke="#4a4a4a"/>
<line x1="161.21" y1="33.2" x2="183.06" y2="33.2" stroke="#8a8a8a"/>
<line x1="161.21" y1="33.2" x2="161.21" y2="33.7" stroke="#4a4a4a"/>
<line x1="183.06" y1="33.2" x2="183.06" y2="33.7" stroke="#4a4a4a"/>
<line x1="133.9" y1="32.4" x2="172.13" y2="32.4" stroke="#4a4a4a"/>
<line x1="133.9" y1="32.4" x2="133.9" y2="33.4" stroke="#4a4a4a"/>
<line x1="172.13" y1="32.4" x2="172.13" y2="33.2" stroke="#4a4a4a"/>
<line x1="115.7" y1="31.8" x2="153.02" y2="31.8" stroke="#4a4a4a"/>
<line x1="115.7" y1="31.8" x2="115.7" y2="34.6" stroke="#4a4a4a"/>
<line x1="153.02" y1="31.8" x2="153.02" y2="32.4" stroke="#4a4a4a"/>
<line x1="92.94" y1="30.4" x2="134.36" y2="30.4" stroke="#4a4a4a"/>
<line x1="92.94" y1="30.4" x2="92.94" y2="33.2" stroke="#4a4a4a"/>
<line x1="134.36" y1="30.4" x2="134.36" y2="31.8" stroke="#4a4a4a"/>
<line x1="210.36" y1="33.8" x2="217.64" y2="33.8" stroke="#8a8a8a"/>
<line x1="210.36" y1="33.8" x2="210.36" y2="34.6" stroke="#4a4a4a"/>
<line x1="217.64" y1="33.8" x2="217.64" y2="34.6" stroke="#4a4a4a"/>
<line x1="203.08" y1="33.5" x2="214" y2="33.5" stroke="#8a8a8a"/>
<line x1="203.08" y1="33.5" x2="203.08" y2="34.6" stroke="#4a4a4a"/>
<line x1="214" y1="33.5" x2="214" y2="33.8" stroke="#4a4a4a"/>
<line x1="195.8" y1="33.2" x2="208.54" y2="33.2" stroke="#8a8a8a"/>
<line x1="195.8" y1="33.2" x2="195.8" y2="34.6" stroke="#4a4a4a"/>
<line x1="208.54" y1="33.2" x2="208.54" y2="33.5" stroke="#4a4a4a"/>
<line x1="246.77" y1="33.6" x2="254.06" y2="33.6" stroke="#8a8a8a"/>
<line x1="246.77" y1="33.6" x2="246.77" y2="34.6" stroke="#4a4a4a"/>
<line x1="254.06" y1="33.6" x2="254.06" y2="34.6" stroke="#4a4a4a"/>
<line x1="232.21" y1="34" x2="239.49" y2="34" stroke="#8a8a8a"/>
<line x1="232.21" y1="34" x2="232.21" y2="34.6" stroke="#4a4a4a"/>
<line x1="239.49" y1="34" x2="239.49" y2="34.6" stroke="#4a4a4a"/>
<line x1="224.93" y1="33.7" x2="235.85" y2="33.7" stroke="#8a8a8a"/>
<line x1="224.93" y1="33.7" x2="224.93" y2="34.6" stroke="#4a4a4a"/>
<line x1="235.85" y1="33.7" x2="235.85" y2="34" stroke="#4a4a4a"/>
<line x1="230.39" y1="32.2" x2="250.41" y2="32.2" stroke="#4a4a4a"/>
<line x1="230.39" y1="32.2" x2="230.39" y2="33.7" stroke="#4a4a4a"/>
<line x1="250.41" y1="32.2" x2="250.41" y2="33.6" stroke="#4a4a4a"/>
<line x1="202.17" y1="29.7" x2="240.4" y2="29.7" stroke="#4a4a4a"/>
<line x1="202.17" y1="29.7" x2="202.17" y2="33.2" stroke="#4a4a4a"/>
<line x1="240.4" y1="29.7" x2="240.4" y2="32.2" stroke="#4a4a4a"/>
<line x1="113.65" y1="21.4" x2="221.29" y2="21.4" stroke="#4a4a4a"/>
<line x1="113.65" y1="21.4" x2="113.65" y2="30.4" stroke="#4a4a4a"/>
<line x1="221.29" y1="21.4" x2="221.29" y2="29.7" stroke="#4a4a4a"/>
<line x1="268.62" y1="33" x2="275.9" y2="33" stroke="#8a8a8a"/>
<line x1="268.62" y1="33" x2="268.62" y2="34.6" stroke="#4a4a4a"/>
<line x1="275.9" y1="33" x2="275.9" y2="34.6" stroke="#4a4a4a"/>
<line x1="261.34" y1="31.2" x2="272.26" y2="31.2" stroke="#4a4a4a"/>
<line x1="261.34" y1="31.2" x2="261.34" y2="34.6" stroke="#4a4a4a"/>
<line x1="272.26" y1="31.2" x2="272.26" y2="33" stroke="#4a4a4a"/>
<line x1="290.46" y1="33.9" x2="297.75" y2="33.9" stroke="#8a8a8a"/>
<line x1="290.46" y1="33.9" x2="290.46" y2="34.6" stroke="#4a4a4a"/>
<line x1="297.75" y1="33.9" x2="297.75" y2="34.6" stroke="#4a4a4a"/>
<line x1="305.03" y1="33.97" x2="312.31" y2="33.97" stroke="#8a8a8a"/>
<line x1="305.03" y1="33.97" x2="305.03" y2="34.6" stroke="#4a4a4a"/>
<line x1="312.31" y1="33.97" x2="312.31" y2="34.6" stroke="#4a4a4a"/>
<line x1="308.67" y1="33.7" x2="319.59" y2="33.7" stroke="#8a8a8a"/>
<line x1="308.67" y1="33.7" x2="308.67" y2="33.97" stroke="#4a4a4a"/>
<line x1="319.59" y1="33.7" x2="319.59" y2="34.6" stroke="#4a4a4a"/>
<line x1="294.11" y1="32.9" x2="314.13" y2="32.9" stroke="#8a8a8a"/>
<line x1="294.11" y1="32.9" x2="294.11" y2="33.9" stroke="#4a4a4a"/>
<line x1="314.13" y1="32.9" x2="314.13" y2="33.7" stroke="#4a4a4a"/>
<line x1="326.88" y1="33.91" x2="334.16" y2="33.91" stroke="#8a8a8a"/>
<line x1="326.88" y1="33.91" x2="326.88" y2="34.6" stroke="#4a4a4a"/>
<line x1="334.16" y1="33.91" x2="334.16" y2="34.6" stroke="#4a4a4a"/>
<line x1="330.52" y1="33.6" x2="341.44" y2="33.6" stroke="#8a8a8a"/>
<line x1="330.52" y1="33.6" x2="330.52" y2="33.91" stroke="#4a4a4a"/>
<line x1="341.44" y1="33.6" x2="341.44" y2="34.6" stroke="#4a4a4a"/>
<line x1="348.72" y1="34.13" x2="356" y2="34.13" stroke="#8a8a8a"/>
<line x1="348.72" y1="34.13" x2="348.72" y2="34.6" stroke="#4a4a4a"/>
<line x1="356" y1="34.13" x2="356" y2="34.6" stroke="#4a4a4a"/>
<line x1="352.36" y1="34" x2="363.29" y2="34" stroke="#8a8a8a"/>
<line x1="352.36" y1="34" x2="352.36" y2="34.13" stroke="#4a4a4a"/>
<line x1="363.29" y1="34" x2="363.29" y2="34.6" stroke="#4a4a4a"/>
<line x1="370.57" y1="34" x2="377.85" y2="34" stroke="#8a8a8a"/>
<line x1="370.57" y1="34" x2="370.57" y2="34.6" stroke="#4a4a4a"/>
<line x1="377.85" y1="34" x2="377.85" y2="34.6" stroke="#4a4a4a"/>
<line x1="357.82" y1="33.75" x2="374.21" y2="33.75" stroke="#8a8a8a"/>
<line x1="357.82" y1="33.75" x2="357.82" y2="34" stroke="#4a4a4a"/>
<line x1="374.21" y1="33.75" x2="374.21" y2="34" stroke="#4a4a4a"/>
<line x1="385.13" y1="34.13" x2="392.41" y2="34.13" stroke="#8a8a8a"/>
<line x1="385.13" y1="34.13" x2="385.13" y2="34.6" stroke="#4a4a4a"/>
<line x1="392.41" y1="34.13" x2="392.41" y2="34.6" stroke="#4a4a4a"/>
<line x1="388.77" y1="34" x2="399.69" y2="34" stroke="#8a8a8a"/>
<line x1="388.77" y1="34" x2="388.77" y2="34.13" stroke="#4a4a4a"/>
<line x1="399.69" y1="34" x2="399.69" y2="34.6" stroke="#4a4a4a"/>
<line x1="406.98" y1="34" x2="414.26" y2="34" stroke="#8a8a8a"/>
<line x1="406.98" y1="34" x2="406.98" y2="34.6" stroke="#4a4a4a"/>
<line x1="414.26" y1="34" x2="414.26" y2="34.6" stroke="#4a4a4a"/>
<line x1="394.23" y1="33.75" x2="410.62" y2="33.75" stroke="#8a8a8a"/>
<line x1="394.23" y1="33.75" x2="394.23" y2="34" stroke="#4a4a4a"/>
<line x1="410.62" y1="33.75" x2="410.62" y2="34" stroke="#4a4a4a"/>
<line x1="366.02" y1="33.3" x2="402.43" y2="33.3" stroke="#8a8a8a"/>
<line x1="366.02" y1="33.3" x2="366.02" y2="33.75" stroke="#4a4a4a"/>
<line x1="402.43" y1="33.3" x2="402.43" y2="33.75" stroke="#4a4a4a"/>
<line x1="335.98" y1="32.4" x2="384.22" y2="32.4" stroke="#4a4a4a"/>
<line x1="335.98" y1="32.4" x2="335.98" y2="33.6" stroke="#4a4a4a"/>
<line x1="384.22" y1="32.4" x2="384.22" y2="33.3" stroke="#4a4a4a"/>
<line x1="304.12" y1="30.9" x2="360.1" y2="30.9" stroke="#4a4a4a"/>
<line x1="304.12" y1="30.9" x2="304.12" y2="32.9" stroke="#4a4a4a"/>
<line x1="360.1" y1="30.9" x2="360.1" y2="32.4" stroke="#4a4a4a"/>
<line x1="283.18" y1="26.7" x2="332.11" y2="26.7" stroke="#4a4a4a"/>
<line x1="283.18" y1="26.7" x2="283.18" y2="34.6" stroke="#4a4a4a"/>
<line x1="332.11" y1="26.7" x2="332.11" y2="30.9" stroke="#4a4a4a"/>
<line x1="266.8" y1="19.4" x2="307.65" y2="19.4" stroke="#4a4a4a"/>
<line x1="266.8" y1="19.4" x2="266.8" y2="31.2" stroke="#4a4a4a"/>
<line x1="307.65" y1="19.4" x2="307.65" y2="26.7" stroke="#4a4a4a"/>
<line x1="167.47" y1="5.5" x2="287.22" y2="5.5" stroke="#4a4a4a"/>
<line x1="167.47" y1="5.5" x2="167.47" y2="21.4" stroke="#4a4a4a"/>
<line x1="287.22" y1="5.5" x2="287.22" y2="19.4" stroke="#4a4a4a"/>
<line x1="63.81" y1="2.45" x2="227.34" y2="2.45" stroke="#4a4a4a"/>
<line x1="63.81" y1="2.45" x2="63.81" y2="22.7" stroke="#4a4a4a"/>
<line x1="227.34" y1="2.45" x2="227.34" y2="5.5" stroke="#4a4a4a"/>
</g>
<g font-size="7.4" stroke="#000" stroke-width="0.18">
<text x="420.6" y="61.37">V09</text>
<text x="420.6" y="72.9">V01</text>
<text x="420.6" y="84.44">V04</text>
<text x="420.6" y="95.98">V08</text>
<text x="420.6" y="107.51">V02</text>
<text x="420.6" y="119.05">V06</text>
<text x="420.6" y="130.58">V03</text>
<text x="420.6" y="142.12">V05</text>
<text x="420.6" y="153.66">V07</text>
<text x="420.6" y="165.19">V10</text>
<text x="420.6" y="176.73">V11</text>
</g>
<text class="b" x="420.8" y="41.1" font-size="7.45">Bands</text>
<text class="b" x="420.8" y="49.8" font-size="7.45">Resolution</text>
<g font-size="6.4" stroke="#000" stroke-width="0.2">
<text transform="translate(55.14,182.9) rotate(90)">675 nm</text>
<text transform="translate(62.42,182.9) rotate(90)">700 nm</text>
<text transform="translate(69.7,182.9) rotate(90)">625 nm</text>
<text transform="translate(76.99,182.9) rotate(90)">650 nm</text>
<text transform="translate(84.27,182.9) rotate(90)">1260 nm</text>
<text transform="translate(91.55,182.9) rotate(90)">1220 nm</text>
<text transform="translate(98.83,182.9) rotate(90)">1180 nm</text>
<text transform="translate(106.11,182.9) rotate(90)">1300 nm</text>
<text transform="translate(113.4,182.9) rotate(90)">740 nm</text>
<text transform="translate(120.68,182.9) rotate(90)">940 nm</text>
<text transform="translate(127.96,182.9) rotate(90)">780 nm</text>
<text transform="translate(135.24,182.9) rotate(90)">900 nm</text>
<text transform="translate(142.52,182.9) rotate(90)">820 nm</text>
<text transform="translate(149.81,182.9) rotate(90)">860 nm</text>
<text transform="translate(157.09,182.9) rotate(90)">1020 nm</text>
<text transform="translate(164.37,182.9) rotate(90)">1060 nm</text>
<text transform="translate(171.65,182.9) rotate(90)">1100 nm</text>
<text transform="translate(178.94,182.9) rotate(90)">980 nm</text>
<text transform="translate(186.22,182.9) rotate(90)">1140 nm</text>
<text transform="translate(193.5,182.9) rotate(90)">400 nm</text>
<text transform="translate(200.78,182.9) rotate(90)">475 nm</text>
<text transform="translate(208.06,182.9) rotate(90)">425 nm</text>
<text transform="translate(215.34,182.9) rotate(90)">450 nm</text>
<text transform="translate(222.63,182.9) rotate(90)">575 nm</text>
<text transform="translate(229.91,182.9) rotate(90)">525 nm</text>
<text transform="translate(237.19,182.9) rotate(90)">550 nm</text>
<text transform="translate(244.47,182.9) rotate(90)">500 nm</text>
<text transform="translate(251.75,182.9) rotate(90)">600 nm</text>
<text transform="translate(259.04,182.9) rotate(90)">2000 nm</text>
<text transform="translate(266.32,182.9) rotate(90)">1900 nm</text>
<text transform="translate(273.6,182.9) rotate(90)">1950 nm</text>
<text transform="translate(280.88,182.9) rotate(90)">1350 nm</text>
<text transform="translate(288.16,182.9) rotate(90)">1400 nm</text>
<text transform="translate(295.45,182.9) rotate(90)">1850 nm</text>
<text transform="translate(302.73,182.9) rotate(90)">1550 nm</text>
<text transform="translate(310.01,182.9) rotate(90)">1650 nm</text>
<text transform="translate(317.29,182.9) rotate(90)">1700 nm</text>
<text transform="translate(324.57,182.9) rotate(90)">1800 nm</text>
<text transform="translate(331.86,182.9) rotate(90)">1600 nm</text>
<text transform="translate(339.14,182.9) rotate(90)">1750 nm</text>
<text transform="translate(346.42,182.9) rotate(90)">2050 nm</text>
<text transform="translate(353.7,182.9) rotate(90)">2400 nm</text>
<text transform="translate(360.99,182.9) rotate(90)">1450 nm</text>
<text transform="translate(368.27,182.9) rotate(90)">2100 nm</text>
<text transform="translate(375.55,182.9) rotate(90)">2350 nm</text>
<text transform="translate(382.83,182.9) rotate(90)">1500 nm</text>
<text transform="translate(390.11,182.9) rotate(90)">2300 nm</text>
<text transform="translate(397.39,182.9) rotate(90)">2150 nm</text>
<text transform="translate(404.68,182.9) rotate(90)">2200 nm</text>
<text transform="translate(411.96,182.9) rotate(90)">2250 nm</text>
</g>
<text class="b" x="204.0" y="223.2" font-size="11.1">Wavelengths (nm)</text>
<text class="b" font-size="11.3" transform="translate(440.2,85.4) rotate(90)">Varieties</text>
<text class="b" font-size="8.2" transform="translate(45.9,183.3) rotate(90)">Pigments</text>
<text class="b" font-size="8.4" transform="translate(37,183.3) rotate(90)">Color Varieties</text>
<text class="b" x="448.6" y="28.3" font-size="8.3">Z-scores</text>
<defs><linearGradient id="zg" x1="0" y1="0" x2="0" y2="1">
<stop offset="0" stop-color="#0c6cb5"/>
<stop offset="0.11" stop-color="#2b92cc"/>
<stop offset="0.2" stop-color="#58a9d6"/>
<stop offset="0.3" stop-color="#a2cee7"/>
<stop offset="0.39" stop-color="#d8eaf4"/>
<stop offset="0.44" stop-color="#f5f7f9"/>
<stop offset="0.47" stop-color="#fbf2ee"/>
<stop offset="0.55" stop-color="#fde2d5"/>
<stop offset="0.66" stop-color="#fcc8b0"/>
<stop offset="0.77" stop-color="#fca086"/>
<stop offset="0.85" stop-color="#f87a62"/>
<stop offset="0.91" stop-color="#ee4b45"/>
<stop offset="0.97" stop-color="#dd2535"/>
<stop offset="1" stop-color="#d21430"/>
</linearGradient></defs>
<rect x="463.3" y="34.6" width="5.8" height="91.4" fill="url(#zg)"/>
<g font-size="7" stroke="#000" stroke-width="0.16">
<text x="472" y="54.9">1</text>
<text x="472" y="76.9">0</text>
<text x="471.6" y="98.7">-1</text>
<text x="471.6" y="120.3">-2</text>
</g>
<text class="b" x="484.9" y="39.5" font-size="7.25" stroke="#000" stroke-width="0.12">Bands</text>
<rect x="484.6" y="43" width="10.9" height="10.6" fill="#ec80ec"/>
<text x="497.7" y="50.9" font-size="7.3" stroke="#000" stroke-width="0.16">VIS</text>
<rect x="484.6" y="53.6" width="10.9" height="10.6" fill="#c2506a"/>
<text x="497.7" y="61.5" font-size="7.3" stroke="#000" stroke-width="0.16">NIR</text>
<rect x="484.6" y="64.2" width="10.9" height="10.6" fill="#700a24"/>
<text x="497.7" y="72.1" font-size="7.3" stroke="#000" stroke-width="0.16">SWIR</text>
<text class="b" x="484.9" y="89.2" font-size="7.25" stroke="#000" stroke-width="0.12">Resolution</text>
<rect x="484.6" y="93" width="10.9" height="10.6" fill="#3dbd6e"/>
<text x="497.7" y="100.9" font-size="7.3" stroke="#000" stroke-width="0.16">25 nm</text>
<rect x="484.6" y="103.6" width="10.9" height="10.6" fill="#bfa6dc"/>
<text x="497.7" y="111.5" font-size="7.3" stroke="#000" stroke-width="0.16">40 nm</text>
<rect x="484.6" y="114.2" width="10.9" height="10.6" fill="#f9bc80"/>
<text x="497.7" y="122.1" font-size="7.3" stroke="#000" stroke-width="0.16">50 nm</text>
<text class="b" x="484.9" y="138.6" font-size="7.25" stroke="#000" stroke-width="0.12">Color Varieties</text>
<rect x="484.6" y="141.9" width="10.9" height="10.6" fill="#0a7e12"/>
<text x="497.7" y="149.8" font-size="7.3" stroke="#000" stroke-width="0.16">Green</text>
<rect x="484.6" y="152.5" width="10.9" height="10.6" fill="#d49f0c"/>
<text x="497.7" y="160.4" font-size="7.3" stroke="#000" stroke-width="0.16">Green-Purplish</text>
<rect x="484.6" y="163.1" width="10.9" height="10.6" fill="#5a10aa"/>
<text x="497.7" y="171" font-size="7.3" stroke="#000" stroke-width="0.16">Purple</text>
<text class="b" x="484.9" y="187.8" font-size="7.25" stroke="#000" stroke-width="0.12">Pigments</text>
<rect x="484.6" y="191.4" width="10.9" height="10.6" fill="#1cf08a"/>
<text x="497.7" y="199.3" font-size="7.3" stroke="#000" stroke-width="0.16">Chl</text>
<rect x="484.6" y="202" width="10.9" height="10.6" fill="#e9bf5c"/>
<text x="497.7" y="209.9" font-size="7.3" stroke="#000" stroke-width="0.16">Chl-AnC</text>
<rect x="484.6" y="212.6" width="10.9" height="7.1" fill="#a884d2"/>
<text x="497.7" y="220.5" font-size="7.3" stroke="#000" stroke-width="0.16">AnC</text>
</svg></body></html>
